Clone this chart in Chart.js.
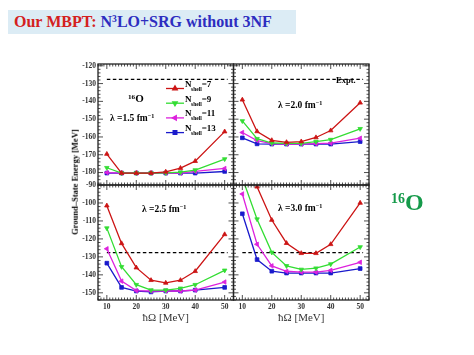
<!DOCTYPE html>
<html><head><meta charset="utf-8">
<script src="https://cdn.jsdelivr.net/npm/chart.js@4.4.0/dist/chart.umd.min.js"></script>
<style>
html,body{margin:0;padding:0;background:#fff;}
#wrap{position:relative;width:474px;height:355px;overflow:hidden;font-family:"Liberation Serif","Times New Roman",serif;}
#c{position:absolute;left:0;top:0;}
.t{position:absolute;white-space:nowrap;font-weight:bold;color:#000;line-height:1;}
.t sup{font-size:65%;vertical-align:0;position:relative;top:-0.45em;}
#title{position:absolute;left:8px;top:10px;width:288px;height:24px;background:#dcecf5;font-weight:bold;font-size:16px;line-height:24px;padding-left:6px;box-sizing:border-box;white-space:nowrap;}
#title sup{font-size:60%;vertical-align:0;position:relative;top:-0.55em;}
</style></head><body>
<div id="wrap">
<div id="title"><span style="color:#d42020">Our MBPT: </span><span style="color:#2d2dc0">N<sup>3</sup>LO+SRG without 3NF</span></div>
<canvas id="c" width="474" height="355"></canvas>
<div class="t" style="left:128px;top:93px;font-size:11px;"><sup>16</sup>O</div>
<div class="t" style="left:110px;top:114px;font-size:9.5px;">λ =1.5 fm<sup>−1</sup></div>
<div class="t" style="left:278px;top:101px;font-size:9.5px;">λ =2.0 fm<sup>−1</sup></div>
<div class="t" style="left:142px;top:205px;font-size:9.5px;">λ =2.5 fm<sup>−1</sup></div>
<div class="t" style="left:278px;top:204px;font-size:9.5px;">λ =3.0 fm<sup>−1</sup></div>
<div class="t" style="left:336px;top:76px;font-size:8.5px;">Expt.</div>
<div class="t" style="left:75px;top:182px;font-size:8.5px;transform:translate(-50%,-50%) rotate(-90deg);">Ground–State Energy [MeV]</div>
<div class="t" style="left:391px;top:190px;font-size:24px;color:#159a4a;"><sup style="font-size:58%;top:-0.5em;">16</sup>O</div>
</div>
<script>
// ---- data ----
const hw = [10, 15, 20, 25, 30, 35, 40, 50];
const shells = ['7', '9', '11', '13'];
const lambdas = ['1.5', '2.0', '2.5', '3.0'];
const expt = -127.6;
const exptRange = [10, 51];

const l15_n7  = [-169.6, -180.3, -180.3, -180.3, -179.6, -177.5, -173.6, -157.0];
const l15_n9  = [-177.3, -180.3, -180.3, -180.3, -180.2, -179.8, -178.6, -172.4];
const l15_n11 = [-180.0, -180.3, -180.3, -180.3, -180.3, -180.3, -179.4, -177.7];
const l15_n13 = [-180.3, -180.3, -180.3, -180.3, -180.3, -180.3, -180.3, -179.4];

const l20_n7  = [-139.1, -156.9, -161.9, -163.0, -162.6, -160.3, -156.4, -140.8];
const l20_n9  = [-151.0, -161.0, -163.4, -163.6, -163.6, -162.6, -161.5, -155.4];
const l20_n11 = [-157.5, -162.0, -163.8, -164.0, -164.0, -163.8, -163.5, -160.7];
const l20_n13 = [-160.5, -163.9, -164.0, -164.0, -164.0, -164.0, -164.0, -162.6];

const l25_n7  = [-101.5, -122.5, -136.0, -143.0, -144.5, -143.0, -138.0, -117.5];
const l25_n9  = [-114.0, -135.5, -145.5, -148.5, -148.5, -147.5, -145.5, -137.5];
const l25_n11 = [-125.5, -143.5, -148.8, -149.0, -149.0, -149.0, -148.5, -144.0];
const l25_n13 = [-133.5, -147.0, -149.0, -149.5, -149.0, -149.0, -148.5, -147.0];

const l30_n7  = [-45.0, -91.0, -109.5, -122.4, -128.0, -128.0, -123.0, -100.0];
const l30_n9  = [-86.0, -109.0, -127.5, -135.0, -137.0, -136.3, -134.0, -124.5];
const l30_n11 = [-95.0, -123.0, -135.0, -138.0, -138.5, -138.5, -137.5, -133.0];
const l30_n13 = [-106.0, -131.5, -138.0, -139.0, -139.0, -139.0, -139.0, -136.5];

const panelSeries = [
  [l15_n7, l15_n9, l15_n11, l15_n13],
  [l20_n7, l20_n9, l20_n11, l20_n13],
  [l25_n7, l25_n9, l25_n11, l25_n13],
  [l30_n7, l30_n9, l30_n11, l30_n13]
];

// ---- styles ----
const colors = ['#cc1414', '#33dd33', '#dd22dd', '#1a1acc'];
const pStyles = ['triangle', 'triangle', 'triangle', 'rect'];
const pRot = [0, 180, -90, 0];
const panelAxes = [['xL', 'yTop'], ['xR', 'yTop'], ['xL', 'yBot'], ['xR', 'yBot']];

const datasets = [];
panelSeries.forEach((series, p) => {
  series.forEach((vals, i) => {
    datasets.push({
      label: 'lambda ' + lambdas[p] + ' Nshell=' + shells[i],
      data: hw.map((x, k) => ({x: x, y: vals[k]})),
      xAxisID: panelAxes[p][0], yAxisID: panelAxes[p][1],
      borderColor: colors[i], backgroundColor: colors[i],
      borderWidth: 1.3, pointStyle: pStyles[i], pointRotation: pRot[i],
      pointRadius: 2.6, pointBorderWidth: 0.8, tension: 0
    });
  });
  datasets.push({
    label: 'Expt.',
    data: exptRange.map(x => ({x: x, y: expt})),
    xAxisID: panelAxes[p][0], yAxisID: panelAxes[p][1],
    borderColor: '#000', borderWidth: 1.3, borderDash: [3.5, 2.5],
    pointRadius: 0
  });
});

const tickFont = {family: '"Liberation Serif", serif', size: 7.5, weight: 'bold'};
const only10 = s => { s.ticks = s.ticks.filter(t => Math.abs(t.value % 10) < 1e-9); };

function xScale() {
  return {
    type: 'linear', position: 'bottom', stack: 'xs', stackWeight: 1,
    min: 7, max: 53,
    grid: {display: false, drawTicks: false}, border: {display: false},
    ticks: {stepSize: 10, includeBounds: false, autoSkip: false, maxRotation: 0, minRotation: 0,
            font: tickFont, color: '#333', padding: 3},
    afterBuildTicks: only10,
    afterFit: s => { s.height = 25; },
    title: {display: true, text: 'ħΩ [MeV]', color: '#333',
            font: {family: '"Liberation Serif", serif', size: 11}, padding: {top: 0, bottom: 0}}
  };
}
function yScale(min, max, w) {
  return {
    type: 'linear', position: 'left', stack: 'ys', stackWeight: w,
    min: min, max: max,
    grid: {display: false, drawTicks: false}, border: {display: false},
    ticks: {stepSize: 10, includeBounds: false, autoSkip: false, font: tickFont, color: '#333', padding: 2},
    afterBuildTicks: only10,
    afterFit: s => { s.width = 36; }
  };
}

const clipPlugin = {
  id: 'panelClip',
  beforeDatasetDraw(chart, args) {
    const m = args.meta, c = chart.ctx;
    c.save(); c.beginPath();
    c.rect(m.xScale.left, m.yScale.top, m.xScale.width, m.yScale.height);
    c.clip();
  },
  afterDatasetDraw(chart) { chart.ctx.restore(); }
};

const framePlugin = {
  id: 'frames',
  afterDraw(chart) {
    const c = chart.ctx, S = chart.scales;
    const ln = (a, b, d, e) => { c.beginPath(); c.moveTo(a, b); c.lineTo(d, e); c.stroke(); };
    c.save();
    c.strokeStyle = '#222';
    panelAxes.forEach(([xi, yi]) => {
      const xs = S[xi], ys = S[yi];
      const l = xs.left, r = xs.right, t = ys.top, b = ys.bottom;
      c.lineWidth = 0.8;
      for (let v = Math.ceil(xs.min); v <= xs.max; v++) {
        const p = xs.getPixelForValue(v), len = v % 10 === 0 ? 5 : 2.5;
        ln(p, b, p, b - len); ln(p, t, p, t + len);
      }
      for (let v = Math.ceil(ys.min / 2) * 2; v <= ys.max; v += 2) {
        const p = ys.getPixelForValue(v), len = v % 10 === 0 ? 5 : 2.5;
        ln(l, p, l + len, p); ln(r, p, r - len, p);
      }
      c.lineWidth = 1.3;
      c.strokeRect(l, t, r - l, b - t);
    });
    // legend in the first panel
    const lx0 = 166, lx1 = 184, ly0 = 88.5, dy = 14.7;
    shells.forEach((s, i) => {
      const y = ly0 + i * dy;
      c.strokeStyle = colors[i]; c.fillStyle = colors[i]; c.lineWidth = 1.3;
      ln(lx0, y, lx1, y);
      Chart.helpers.drawPoint(c, {pointStyle: pStyles[i], rotation: pRot[i], radius: 2.6, borderWidth: 0.8}, (lx0 + lx1) / 2, y);
      c.fillStyle = '#000';
      c.textBaseline = 'alphabetic';
      c.font = 'bold 9px "Liberation Serif", serif';
      c.fillText('N', 185, y - 1.5);
      const wN = c.measureText('N').width;
      c.font = 'bold 5.5px "Liberation Serif", serif';
      c.fillText('shell', 185 + wN - 0.5, y + 2.5);
      const wS = c.measureText('shell').width;
      c.font = 'bold 9px "Liberation Serif", serif';
      c.fillText('=' + s, 185 + wN - 0.5 + wS, y - 1.5);
    });
    c.restore();
  }
};

new Chart(document.getElementById('c'), {
  type: 'line',
  data: {datasets: datasets},
  options: {
    responsive: false, animation: false, spanGaps: true,
    layout: {padding: {left: 62, right: 105, top: 64, bottom: 30}},
    plugins: {legend: {display: false}, tooltip: {enabled: false}},
    scales: {
      xL: xScale(),
      xR: xScale(),
      yBot: yScale(-154, -90, 115),
      yTop: yScale(-187, -119, 121)
    }
  },
  plugins: [clipPlugin, framePlugin]
});
</script>
</body></html>
